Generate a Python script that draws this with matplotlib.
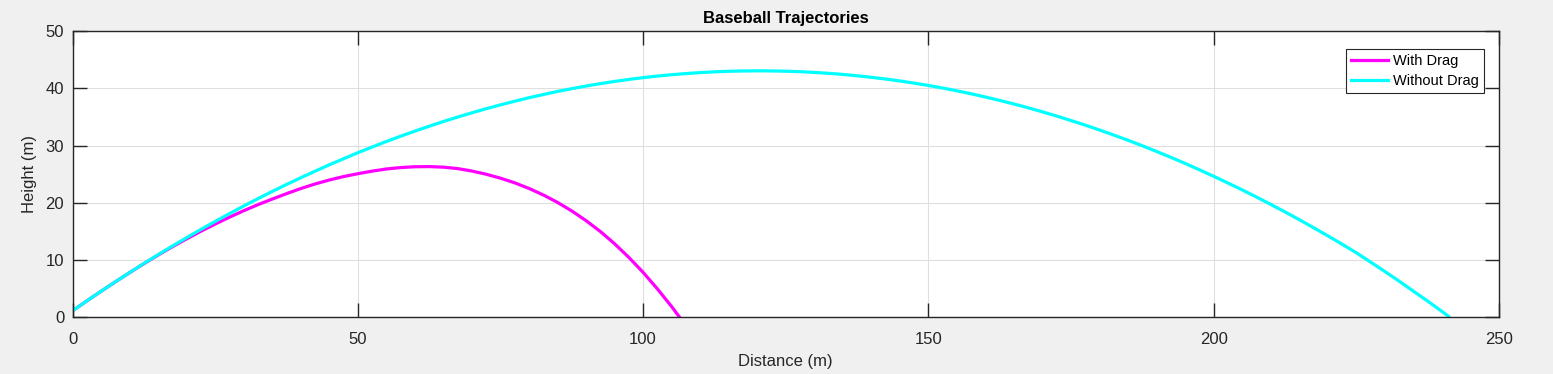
import matplotlib
matplotlib.use("Agg")
import matplotlib.pyplot as plt

# Without drag (distance m, height m)
x_nodrag = [0, 2.5, 5, 7.5, 10, 12.5, 15, 17.5, 20, 22.5, 25, 27.5, 30, 32.5, 35, 37.5,
            40, 42.5, 45, 47.5, 50, 52.5, 55, 57.5, 60, 62.5, 65, 67.5, 70, 72.5, 75, 77.5,
            80, 82.5, 85, 87.5, 90, 92.5, 95, 97.5, 100, 102.5, 105, 107.5, 110, 112.5,
            115, 117.5, 120, 122.5, 125, 127.5, 130, 132.5, 135, 137.5, 140, 142.5, 145,
            147.5, 150, 152.5, 155, 157.5, 160, 162.5, 165, 167.5, 170, 172.5, 175, 177.5,
            180, 182.5, 185, 187.5, 190, 192.5, 195, 197.5, 200, 202.5, 205, 207.5, 210,
            212.5, 215, 217.5, 220, 222.5, 225, 227.5, 230, 232.5, 235, 237.5, 240, 241.2]
y_nodrag = [1.0, 2.73, 4.43, 6.09, 7.71, 9.30, 10.85, 12.36, 13.84, 15.28, 16.68, 18.05,
            19.38, 20.68, 21.94, 23.16, 24.34, 25.49, 26.61, 27.68, 28.73, 29.73, 30.70,
            31.63, 32.52, 33.38, 34.21, 34.99, 35.74, 36.45, 37.13, 37.77, 38.38, 38.94,
            39.48, 39.97, 40.43, 40.85, 41.24, 41.59, 41.90, 42.18, 42.42, 42.62, 42.79,
            42.92, 43.02, 43.07, 43.10, 43.08, 43.03, 42.95, 42.82, 42.66, 42.47, 42.23,
            41.96, 41.66, 41.32, 40.94, 40.53, 40.08, 39.59, 39.07, 38.50, 37.91, 37.28,
            36.61, 35.90, 35.16, 34.38, 33.57, 32.72, 31.83, 30.91, 29.95, 28.95, 27.92,
            26.85, 25.74, 24.60, 23.42, 22.21, 20.96, 19.67, 18.35, 16.99, 15.59, 14.16,
            12.69, 11.18, 9.55, 7.90, 6.20, 4.45, 2.70, 0.90, 0.0]

# With drag
x_drag = [0, 2.5, 5, 7.5, 10, 12.5, 15, 17.5, 20, 22.5, 25, 27.5, 30, 32.5, 35, 37.5,
          40, 42.5, 45, 47.5, 50, 52.5, 55, 57.5, 60, 62.5, 65, 67.5, 70, 72.5, 75, 77.5,
          80, 82.5, 85, 87.5, 90, 92.5, 95, 97.5, 100, 102.5, 105, 106.3]
y_drag = [1.0, 2.73, 4.42, 6.08, 7.69, 9.26, 10.78, 12.24, 13.63, 14.96, 16.22, 17.42,
          18.56, 19.62, 20.6, 21.55, 22.45, 23.25, 23.95, 24.55, 25.05, 25.5, 25.88,
          26.13, 26.27, 26.3, 26.2, 25.95, 25.52, 24.96, 24.27, 23.45, 22.47, 21.33,
          20.02, 18.52, 16.82, 14.92, 12.77, 10.37, 7.75, 4.85, 1.75, 0.0]

xticks = [0, 50, 100, 150, 200, 250]
yticks = [0, 10, 20, 30, 40, 50]

plt.rcParams['font.family'] = ['Liberation Sans', 'DejaVu Sans']

fig = plt.figure(figsize=(15.53, 3.74), dpi=100, facecolor='#f0f0f0')
ax = fig.add_axes([0.0467, 0.1537, 0.9185, 0.7621])
ax.set_facecolor('white')

ax.plot(x_drag, y_drag, color='#ff00ff', lw=2.3, label='With Drag')
ax.plot(x_nodrag, y_nodrag, color='#00ffff', lw=2.3, label='Without Drag')

ax.set_xlim(0, 250)
ax.set_ylim(0, 50)
ax.set_xticks(xticks)
ax.set_yticks(yticks)
ax.grid(True, color='#dfdfdf', lw=0.8)
ax.set_axisbelow(True)
for s in ax.spines.values():
    s.set_color('#262626')
    s.set_linewidth(1.0)
ax.tick_params(direction='in', length=10, width=1.0, color='#262626',
               top=True, right=True, labelsize=12, labelcolor='#262626')
ax.tick_params(axis='x', pad=11)
ax.tick_params(axis='y', pad=6)

ax.set_title('Baseball Trajectories', fontsize=12, fontweight='bold', color='black', pad=6)
ax.set_xlabel('Distance (m)', fontsize=12, color='#262626', labelpad=5)
ax.set_ylabel('Height (m)', fontsize=12, color='#262626', labelpad=6)

leg = ax.legend(loc='upper right', bbox_to_anchor=(0.9895, 0.94), fontsize=10.5,
                frameon=True, fancybox=False, edgecolor='#262626', framealpha=1,
                handlelength=2.5, handletextpad=0.35, borderpad=0.35, labelspacing=0.45,
                borderaxespad=0)
leg.get_frame().set_linewidth(0.8)

fig.savefig('out.png', dpi=100, facecolor=fig.get_facecolor())
